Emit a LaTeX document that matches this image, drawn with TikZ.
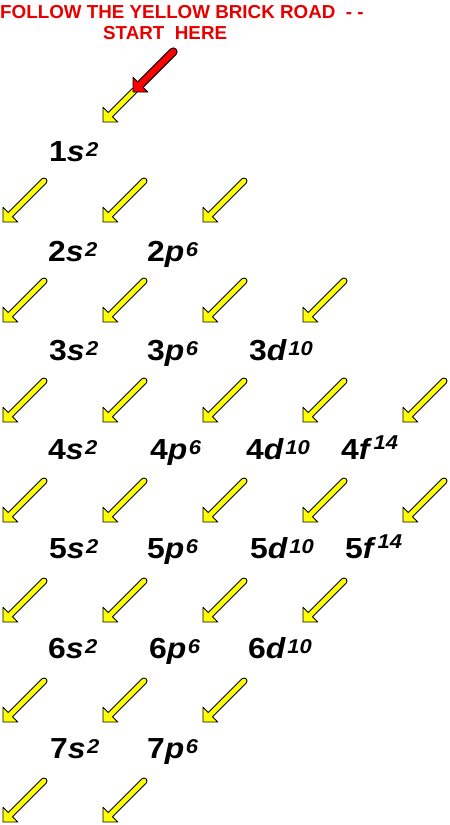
\documentclass[tikz,border=0pt]{standalone}
\usepackage{fontspec}
\setmainfont{Liberation Sans}
\newfontfamily\orbfont[FakeStretch=1.1]{Liberation Sans}
\usepackage{tikz}
\usetikzlibrary{calc}
\definecolor{roadyellow}{RGB}{255,255,0}
\definecolor{roadred}{RGB}{255,0,0}
\definecolor{titlered}{RGB}{232,0,0}
\newcommand{\orbital}[4][4.5pt]{#2\textit{#3}\kern1.5pt\raisebox{#1}{\fontsize{20}{20}\selectfont\textit{#4}}}
\newcommand{\roadarrow}[4]{\filldraw[fill=#1, draw=black, line width=0.9pt, line join=round, shift={(#2)}, rotate=225] (-#3,#4) -- (-10.5,#4) -- (-10.5,10.5) -- (0,0) -- (-10.5,-10.5) -- (-10.5,-#4) -- (-#3,-#4) arc[start angle=270, end angle=90, radius=#4] -- cycle;}

\begin{document}
\begin{tikzpicture}[x=1pt,y=-1pt]
    \tikzstyle{every node}=[inner sep=0pt, anchor=base west, font=\orbfont\fontsize{29}{29}\selectfont\bfseries]
    \tikzstyle{title}=[font=\fontsize{18.8}{18.8}\selectfont\bfseries, text=titlered]
     \useasboundingbox (0,0) rectangle (450,825);

     \node[title] (road) at (0,18) {FOLLOW THE YELLOW BRICK ROAD\ \ - -};
     \node[title] (start) at (103,39) {START\ \ HERE};

     \roadarrow{roadyellow}{103,122}{44}{3}
     \roadarrow{roadred}{133,92}{57}{3.8}

     \node (o1s) at (49,161) {\orbital{1}{s}{2}};

     \roadarrow{roadyellow}{3,222}{58}{3}
     \roadarrow{roadyellow}{103,222}{58}{3}
     \roadarrow{roadyellow}{203,222}{58}{3}

     \node (o2s) at (48,261) {\orbital{2}{s}{2}};
     \node (o2p) at (147,261) {\orbital{2}{p}{6}};

     \roadarrow{roadyellow}{3,322}{58}{3}
     \roadarrow{roadyellow}{103,322}{58}{3}
     \roadarrow{roadyellow}{203,322}{58}{3}
     \roadarrow{roadyellow}{303,322}{58}{3}

     \node (o3s) at (49,360) {\orbital{3}{s}{2}};
     \node (o3p) at (147,360) {\orbital{3}{p}{6}};
     \node (o3d) at (249,360) {\orbital{3}{d}{10}};

     \roadarrow{roadyellow}{3,422}{58}{3}
     \roadarrow{roadyellow}{103,422}{58}{3}
     \roadarrow{roadyellow}{203,422}{58}{3}
     \roadarrow{roadyellow}{303,422}{58}{3}
     \roadarrow{roadyellow}{403,422}{58}{3}

     \node (o4s) at (48,459) {\orbital{4}{s}{2}};
     \node (o4p) at (150,459) {\orbital{4}{p}{6}};
     \node (o4d) at (246,459) {\orbital{4}{d}{10}};
     \node (o4f) at (341,459) {\orbital[10pt]{4}{f}{14}};

     \roadarrow{roadyellow}{3,522}{58}{3}
     \roadarrow{roadyellow}{103,522}{58}{3}
     \roadarrow{roadyellow}{203,522}{58}{3}
     \roadarrow{roadyellow}{303,522}{58}{3}
     \roadarrow{roadyellow}{403,522}{58}{3}

     \node (o5s) at (49,558) {\orbital{5}{s}{2}};
     \node (o5p) at (147,558) {\orbital{5}{p}{6}};
     \node (o5d) at (250,558) {\orbital{5}{d}{10}};
     \node (o5f) at (345,558) {\orbital[10pt]{5}{f}{14}};

     \roadarrow{roadyellow}{3,622}{58}{3}
     \roadarrow{roadyellow}{103,622}{58}{3}
     \roadarrow{roadyellow}{203,622}{58}{3}
     \roadarrow{roadyellow}{303,622}{58}{3}

     \node (o6s) at (48,658) {\orbital{6}{s}{2}};
     \node (o6p) at (149,658) {\orbital{6}{p}{6}};
     \node (o6d) at (248,658) {\orbital{6}{d}{10}};

     \roadarrow{roadyellow}{3,722}{58}{3}
     \roadarrow{roadyellow}{103,722}{58}{3}
     \roadarrow{roadyellow}{203,722}{58}{3}

     \node (o7s) at (50,758) {\orbital{7}{s}{2}};
     \node (o7p) at (147,758) {\orbital{7}{p}{6}};

     \roadarrow{roadyellow}{3,822}{58}{3}
     \roadarrow{roadyellow}{103,822}{58}{3}
    \end{tikzpicture}
\end{document}
